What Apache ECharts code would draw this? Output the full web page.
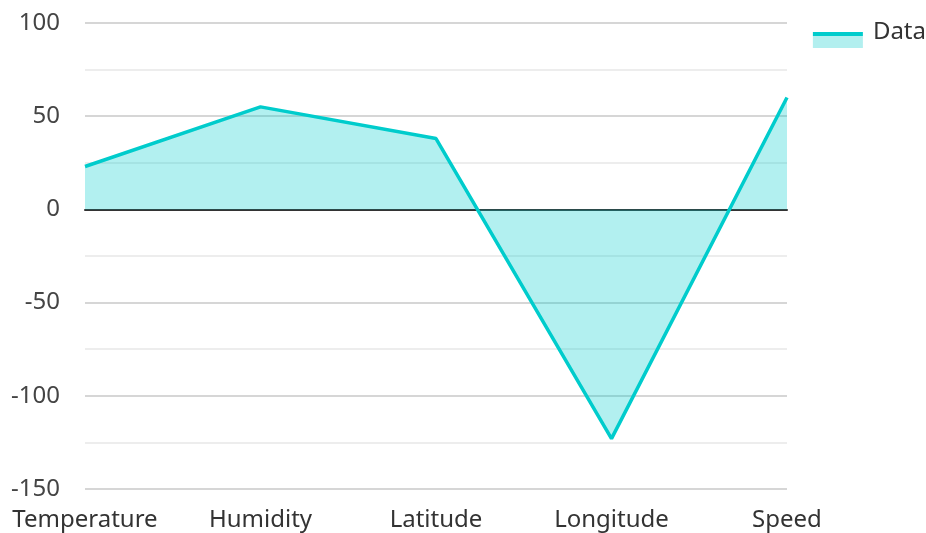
<!DOCTYPE html>
<html><head><meta charset="utf-8">
<script src="https://cdn.jsdelivr.net/npm/echarts@6/dist/echarts.min.js"></script>
<style>html,body{margin:0;padding:0;background:#fff}#c{width:926px;height:533px}</style>
</head><body><div id="c"></div>
<script>
const categories = ["Temperature", "Humidity", "Latitude", "Longitude", "Speed"];
const values = [23, 55, 38, -123, 60];
const seriesName = "Data";
const yMin = -150, yMax = 100, yStep = 50;

const lineColor = '#00cccc';
const fillColor = 'rgba(0,204,204,0.3)';
const chart = echarts.init(document.getElementById('c'), null, {renderer: 'canvas'});
const font = '"Noto Sans", "Open Sans", sans-serif';
chart.setOption({
  animation: false,
  textStyle: {fontFamily: font},
  grid: {left: 85, right: 139, top: 23, bottom: 44, containLabel: false},
  legend: {
    right: 0, top: 16, itemWidth: 50, itemHeight: 32, itemGap: 10, padding: 0,
    icon: 'rect',
    textStyle: {fontSize: 24, color: '#333', fontFamily: font, padding: [0, 0, 0, 5]},
    itemStyle: {
      color: new echarts.graphic.LinearGradient(0, 0, 0, 1, [
        {offset: 0, color: 'rgba(255,255,255,0)'},
        {offset: 0.5, color: 'rgba(255,255,255,0)'},
        {offset: 0.5, color: lineColor},
        {offset: 0.625, color: lineColor},
        {offset: 0.625, color: '#b2efef'},
        {offset: 1, color: '#b2efef'}
      ]),
      borderWidth: 0
    },
    data: [{name: seriesName}]
  },
  xAxis: {
    type: 'category', data: categories, boundaryGap: false,
    axisLine: {onZero: true, lineStyle: {color: '#333', width: 2}},
    axisTick: {show: false},
    axisLabel: {fontSize: 24, color: '#333', margin: 19, fontFamily: font, interval: 0, hideOverlap: false},
    splitLine: {show: false}
  },
  yAxis: {
    type: 'value', min: yMin, max: yMax, interval: yStep,
    axisLine: {show: false}, axisTick: {show: false},
    axisLabel: {fontSize: 24, color: '#444', margin: 25, fontFamily: font, padding: [3, 0, 0, 0]},
    splitLine: {show: true, lineStyle: {color: '#c8c8c8', width: 1.5}},
    minorTick: {show: false, splitNumber: 2},
    minorSplitLine: {show: true, lineStyle: {color: '#e8e8e8', width: 1.5}}
  },
  series: [{
    name: seriesName, type: 'line', data: values,
    symbol: 'none', showSymbol: false,
    lineStyle: {color: lineColor, width: 3.5},
    itemStyle: {color: lineColor},
    areaStyle: {color: fillColor, opacity: 1, origin: 0}
  }]
});
</script></body></html>
